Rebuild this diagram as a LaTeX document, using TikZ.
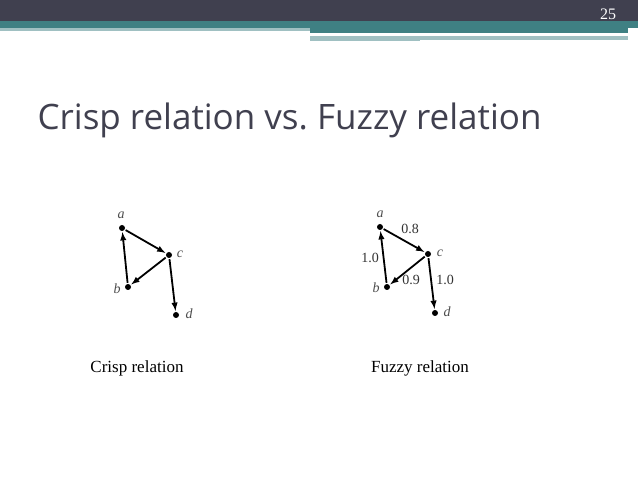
\documentclass[tikz,border=0pt]{standalone}
\usepackage{fontspec}
\setmainfont{Liberation Serif}
\newfontfamily\titlefont{Open Sans}
\begin{document}
\begin{tikzpicture}[x=1pt,y=-1pt,
  pt/.style={circle,fill=black,inner sep=0pt,minimum size=6pt},
  edge/.style={->,>=latex,line width=1.8pt,shorten >=1pt,shorten <=1pt},
  lab/.style={font=\itshape\fontsize{14}{14}\selectfont,text=black!70},
  wt/.style={font=\fontsize{14}{14}\selectfont,inner sep=1pt,text=black!80}]
\useasboundingbox (0,0) rectangle (638,478);
\fill[white] (0,0) rectangle (638,478);
\definecolor{hdr}{HTML}{40404F}
\definecolor{teal1}{HTML}{3F8083}
\definecolor{teal2}{HTML}{A0C0C2}
\fill[hdr] (0,0) rectangle (638,21);
\fill[teal1] (0,21) rectangle (638,28);
\fill[teal2] (0,28) rectangle (310,31);
\fill[teal1] (310,28) rectangle (628,33);
\fill[teal2] (310,36) rectangle (628,41);
\fill[white] (310,34) rectangle (484,36);
\fill[white] (420,40) rectangle (628,43);
\node[text=white,font=\fontsize{16}{16}\selectfont] (pg) at (608,14) {25};
\node[anchor=west,text=hdr,font=\titlefont\fontsize{35}{35}\selectfont] (title) at (34,120) {Crisp relation vs.\ Fuzzy relation};
% left graph
\node[pt] (a) at (122,228) {};
\node[pt] (c) at (169,255) {};
\node[pt] (b) at (128,287) {};
\node[pt] (d) at (176,315) {};
\node[lab] (la) at (121,215) {a};
\node[lab] (lc) at (180,254) {c};
\node[lab] (lb) at (117,289) {b};
\node[lab] (ld) at (189,314) {d};
\draw[edge] (a) -- (c);
\draw[edge] (c) -- (b);
\draw[edge] (b) -- (a);
\draw[edge] (c) -- (d);
% right graph
\node[pt] (a2) at (380,227) {};
\node[pt] (c2) at (428,254) {};
\node[pt] (b2) at (387,287) {};
\node[pt] (d2) at (435,313) {};
\node[lab] (la2) at (380,214) {a};
\node[lab] (lc2) at (440,253) {c};
\node[lab] (lb2) at (376,288) {b};
\node[lab] (ld2) at (447,312) {d};
\draw[edge] (a2) -- (c2);
\draw[edge] (c2) -- (b2);
\draw[edge] (b2) -- (a2);
\draw[edge] (c2) -- (d2);
\node[wt] (w1) at (410,229) {0.8};
\node[wt] (w2) at (411,280) {0.9};
\node[wt] (w3) at (370,258) {1.0};
\node[wt] (w4) at (445,280) {1.0};
\node[font=\fontsize{17}{17}\selectfont] (cap1) at (137,368) {Crisp relation};
\node[font=\fontsize{17}{17}\selectfont] (cap2) at (420,368) {Fuzzy relation};
\end{tikzpicture}
\end{document}
